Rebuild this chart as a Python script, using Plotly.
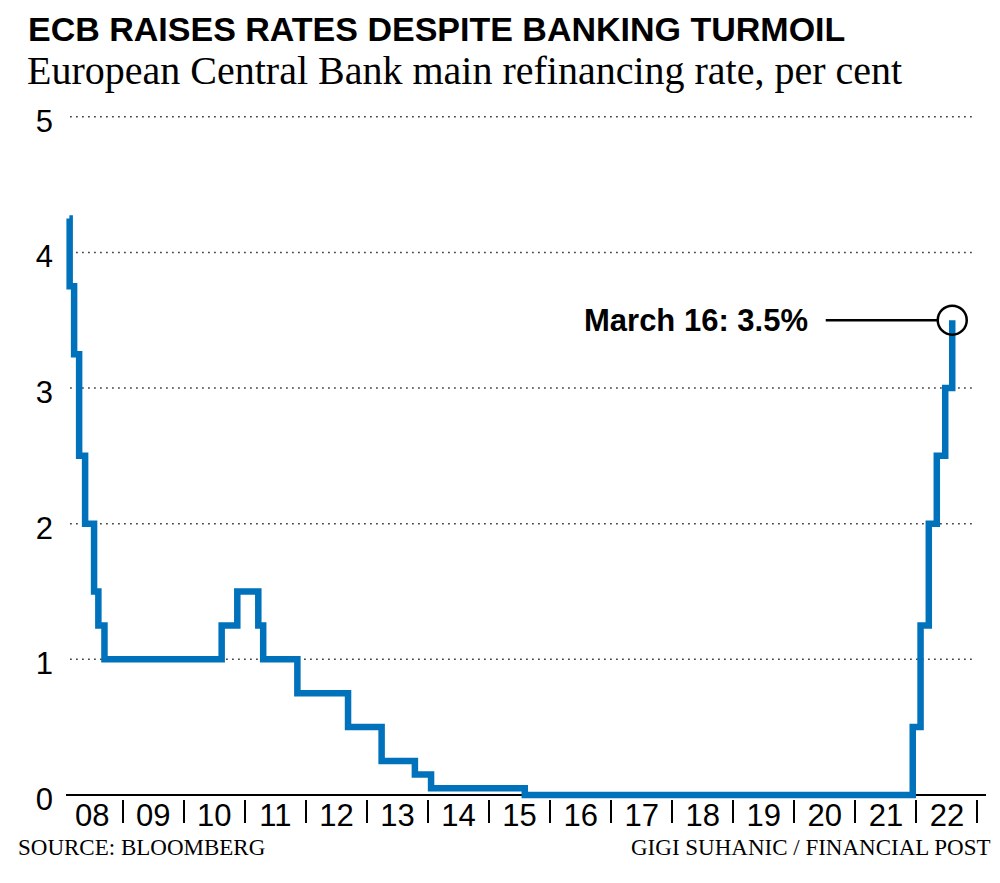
import plotly.graph_objects as go

# ---- data ----
step_x = [2008.125, 2008.13, 2008.203, 2008.285, 2008.383, 2008.53, 2008.60, 2008.70,
          2010.62, 2010.876, 2011.22, 2011.30, 2011.86, 2012.69, 2013.24, 2013.785,
          2014.05, 2015.585, 2021.94, 2022.068, 2022.203, 2022.334, 2022.472, 2022.587]
rates = [4.25, 3.75, 3.25, 2.50, 2.00, 1.50, 1.25, 1.00,
         1.25, 1.50, 1.25, 1.00, 0.75, 0.50, 0.25, 0.15,
         0.05, 0.00, 0.50, 1.25, 2.00, 2.50, 3.00, 3.50]
years = list(range(2008, 2023))
year_labels = ["08", "09", "10", "11", "12", "13", "14", "15", "16", "17", "18", "19", "20", "21", "22"]
y_ticks = [0, 1, 2, 3, 4, 5]
grid_vals = [1, 2, 3, 4, 5]
callout_text = "March 16: 3.5%"

# ---- layout geometry ----
W, H = 1000, 883
X_RANGE = [2008.07, 2023.14]
Y_RANGE = [-0.03, 5.05]
L, R = 66, 13.5
T, B = 110.2, 83.9
pw = W - L - R
ph = H - T - B

def px_x(px):
    return (px - L) / pw

def px_y(py):
    return (H - B - py) / ph

BLUE = "#0072bc"
SANS = "Liberation Sans, Arial, sans-serif"
SERIF = "Liberation Serif, Times New Roman, serif"

fig = go.Figure()

fig.add_trace(go.Scatter(
    x=step_x, y=rates, mode="lines", line=dict(color=BLUE, width=6.5, shape="hv"),
    hoverinfo="skip", showlegend=False,
))

# circle on last point
fig.add_trace(go.Scatter(
    x=[step_x[-1]], y=[rates[-1]], mode="markers",
    marker=dict(symbol="circle-open", size=29, color="black", line=dict(width=2.5, color="black")),
    hoverinfo="skip", showlegend=False, cliponaxis=False,
))

shapes = []
for g in grid_vals:
    shapes.append(dict(type="line", xref="x", yref="y", x0=X_RANGE[0] - 0.03, x1=2022.95,
                       y0=g, y1=g, layer="below",
                       line=dict(color="#222", width=1.5, dash="1.5px,4.5px")))

annotations = [
    dict(text="<b>ECB RAISES RATES DESPITE BANKING TURMOIL</b>", xref="paper", yref="paper",
         x=px_x(26), y=px_y(29), xanchor="left", yanchor="middle", showarrow=False,
         font=dict(family=SANS, size=34, color="black")),
    dict(text="European Central Bank main refinancing rate, per cent", xref="paper", yref="paper",
         x=px_x(25), y=px_y(71), xanchor="left", yanchor="middle", showarrow=False,
         font=dict(family=SERIF, size=40, color="black")),
    dict(text="SOURCE: BLOOMBERG", xref="paper", yref="paper",
         x=px_x(16), y=px_y(848), xanchor="left", yanchor="middle", showarrow=False,
         font=dict(family=SERIF, size=23, color="black")),
    dict(text="GIGI SUHANIC / FINANCIAL POST", xref="paper", yref="paper",
         x=px_x(994), y=px_y(848), xanchor="right", yanchor="middle", showarrow=False,
         font=dict(family=SERIF, size=23, color="black")),
    dict(text="<b>" + callout_text + "</b>", x=step_x[-1], y=rates[-1], xref="x", yref="y",
         ax=-256, ay=0, axref="pixel", ayref="pixel", showarrow=True, arrowhead=0,
         arrowwidth=2.5, arrowcolor="black", standoff=14, borderpad=17,
         font=dict(family=SANS, size=31, color="black")),
]

fig.update_layout(
    width=W, height=H,
    margin=dict(l=L, r=R, t=T, b=B, pad=0),
    paper_bgcolor="white", plot_bgcolor="white",
    shapes=shapes, annotations=annotations,
    xaxis=dict(
        range=X_RANGE, showgrid=False, zeroline=False, showline=False,
        tickvals=[y + 0.5 for y in years], ticktext=year_labels, ticks="",
        tickfont=dict(family=SANS, size=31, color="black"), ticklabelstandoff=-5,
        minor=dict(tickvals=[y + 1 for y in years], ticks="outside", ticklen=23,
                   tickwidth=2, tickcolor="black", showgrid=False),
    ),
    yaxis=dict(
        range=Y_RANGE, showgrid=False, zeroline=True, zerolinecolor="black", zerolinewidth=2,
        showline=False, tickvals=y_ticks, ticktext=[str(v) for v in y_ticks], ticks="",
        tickfont=dict(family=SANS, size=31, color="black"), ticklabelstandoff=12,
        ticklabelshift=4,
    ),
)

fig.write_html("out.html", config={"displayModeBar": False},
               post_script="document.body.style.margin='0';")
